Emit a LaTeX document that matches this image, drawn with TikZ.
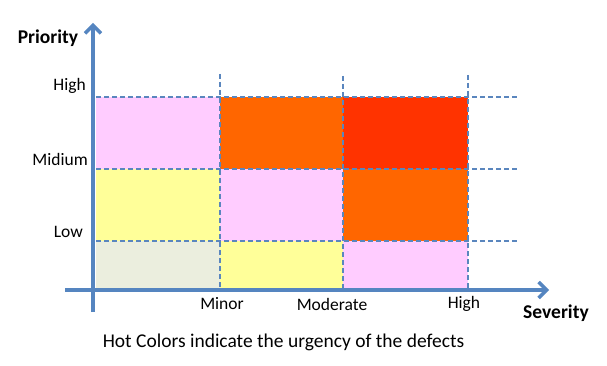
\documentclass[tikz,border=0pt]{standalone}
\usepackage{fontspec}
\setmainfont{Carlito}
\usetikzlibrary{arrows.meta}
\definecolor{axisblue}{HTML}{5585C0}
\definecolor{dashblue}{HTML}{5A86BE}
\definecolor{cpink}{HTML}{FFCCFF}
\definecolor{corange}{HTML}{FF6600}
\definecolor{cred}{HTML}{FF3300}
\definecolor{cyellow}{HTML}{FFFF99}
\definecolor{cgray}{HTML}{EBEEDE}
\begin{document}
\begin{tikzpicture}[x=1pt,y=-1pt,
  cell/.style={draw=none,inner sep=0pt,minimum width=124pt},
  gridline/.style={dashblue,line width=1.3pt,dash pattern=on 5pt off 3pt},
  axis/.style={axisblue,line width=3.5pt,-{Straight Barb[length=8pt,width=16pt,line width=3.5pt]}},
  lbl/.style={font=\fontsize{17.5}{20}\selectfont,inner sep=0pt},
  clbl/.style={font=\fontsize{19.5}{22}\selectfont,inner sep=0pt},
  blbl/.style={font=\fontsize{19.5}{22}\selectfont\bfseries,inner sep=0pt}]
\useasboundingbox (0,0) rectangle (607,366);
% cells
\node[cell,fill=cpink,minimum height=72pt] (c11) at (158,133) {};
\node[cell,fill=corange,minimum height=72pt,minimum width=123pt] (c12) at (281.5,133) {};
\node[cell,fill=cred,minimum height=72pt,minimum width=125pt] (c13) at (405.5,133) {};
\node[cell,fill=cyellow,minimum height=72pt] (c21) at (158,205) {};
\node[cell,fill=cpink,minimum height=72pt,minimum width=123pt] (c22) at (281.5,205) {};
\node[cell,fill=corange,minimum height=72pt,minimum width=125pt] (c23) at (405.5,205) {};
\node[cell,fill=cgray,minimum height=49pt] (c31) at (158,265.5) {};
\node[cell,fill=cyellow,minimum height=49pt,minimum width=123pt] (c32) at (281.5,265.5) {};
\node[cell,fill=cpink,minimum height=49pt,minimum width=125pt] (c33) at (405.5,265.5) {};
% grid line ends
\coordinate (h1a) at (96,97);  \coordinate (h1b) at (518,97);
\coordinate (h2a) at (96,169); \coordinate (h2b) at (518,169);
\coordinate (h3a) at (96,241); \coordinate (h3b) at (518,241);
\coordinate (v1a) at (220,74); \coordinate (v1b) at (220,290);
\coordinate (v2a) at (343,76); \coordinate (v2b) at (343,290);
\coordinate (v3a) at (468,75); \coordinate (v3b) at (468,290);
\draw[gridline] (h1a) -- (h1b);
\draw[gridline] (h2a) -- (h2b);
\draw[gridline] (h3a) -- (h3b);
\draw[gridline] (v1a) -- (v1b);
\draw[gridline] (v2a) -- (v2b);
\draw[gridline] (v3a) -- (v3b);
% axes
\coordinate (yb) at (93,312); \coordinate (yt) at (93,23);
\coordinate (xl) at (65,290); \coordinate (xr) at (549,290);
\draw[axis] (yb) -- (yt);
\draw[axis] (xl) -- (xr);
% labels
\node[blbl] (prio) at (48,38) {Priority};
\node[blbl] (sev) at (556,313) {Severity};
\node[lbl,anchor=east] (lh) at (86,86) {High};
\node[lbl,anchor=east] (lm) at (88,159) {Midium};
\node[lbl,anchor=east] (ll) at (83,232) {Low};
\node[lbl] (sm) at (222,304) {Minor};
\node[lbl] (smo) at (332,304) {Moderate};
\node[lbl] (sh) at (464,304) {High};
\node[clbl] (cap) at (283.5,342) {Hot Colors indicate the urgency of the defects};
\end{tikzpicture}
\end{document}
